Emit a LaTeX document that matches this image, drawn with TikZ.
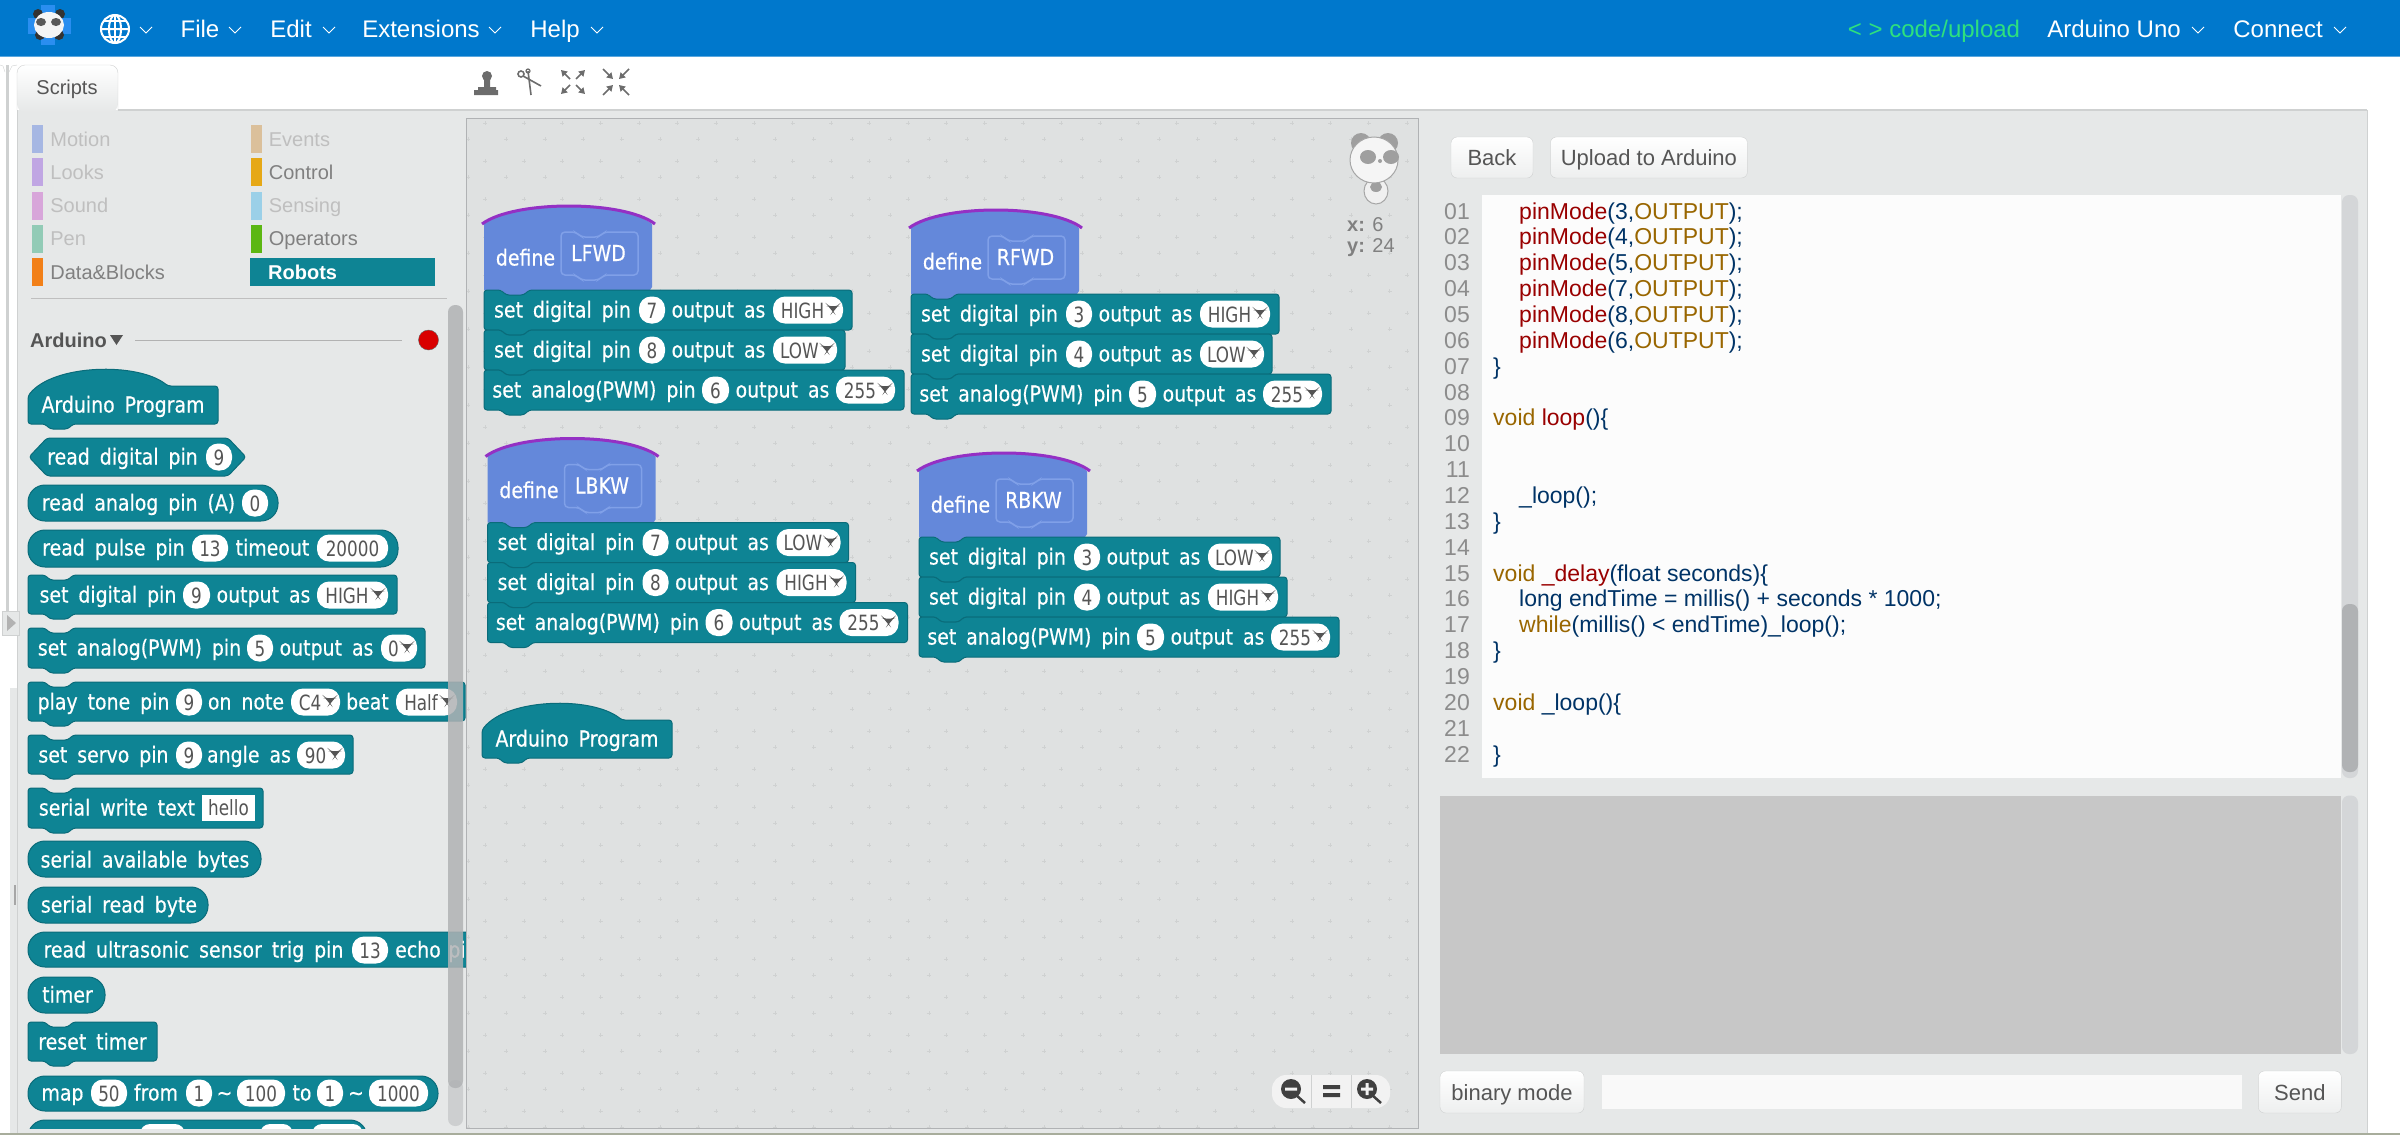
\documentclass[tikz,border=0pt]{standalone}
\usepackage{fontspec}
\setmainfont{Liberation Sans}
\newfontfamily\blockfont[FakeStretch=0.86,WordSpace=1.65,FakeBold=0.4]{DejaVu Sans}
\newfontfamily\fieldfont[FakeStretch=0.8]{DejaVu Sans}
\usetikzlibrary{arrows.meta, positioning}

\definecolor{barblue}{HTML}{0078CC}
\definecolor{logoblue}{HTML}{2A8EF0}
\definecolor{codegreen}{HTML}{2EE07E}
\definecolor{panelbg}{HTML}{E6E8E8}
\definecolor{scriptbg}{HTML}{DFE1E1}
\definecolor{edgegray}{HTML}{CFD1D1}
\definecolor{tealblock}{HTML}{0E8494}
\definecolor{tealedge}{HTML}{0A6C7A}
\definecolor{hatblue}{HTML}{6488DA}
\definecolor{slotblue}{HTML}{80A0E8}
\definecolor{hatrim}{HTML}{9430C4}
\definecolor{inkgray}{HTML}{555555}
\definecolor{thumbgray}{HTML}{B0B2B4}
\definecolor{trackgray}{HTML}{D4D6D8}
\definecolor{keyred}{HTML}{990000}
\definecolor{typebrown}{HTML}{996600}
\definecolor{plainnavy}{HTML}{003366}
\definecolor{bottomline}{HTML}{A8AD9C}
\definecolor{catMotion}{HTML}{A6B7E3}
\definecolor{catLooks}{HTML}{C0A6E3}
\definecolor{catSound}{HTML}{D8A6DA}
\definecolor{catPen}{HTML}{92CBB6}
\definecolor{catData}{HTML}{F28018}
\definecolor{catEvents}{HTML}{DBC09B}
\definecolor{catControl}{HTML}{E6A816}
\definecolor{catSensing}{HTML}{9BD0E8}
\definecolor{catOperators}{HTML}{5CB712}

\newcommand{\fs}[1]{\fontsize{#1}{#1}\selectfont}
\newcommand{\cKey}[1]{\textcolor{keyred}{#1}}
\newcommand{\cType}[1]{\textcolor{typebrown}{#1}}

% text and fields inside one block
\newcommand{\segs}[3]{%
  \foreach \kd/\xa/\xb/\txt [count=\nn] in {#3}
    \node[seg\kd, minimum width={(\xb-\xa)*1pt}] (#1\nn) at ({(\xa+\xb)/2},#2) {\txt};
}
\newcommand{\cmdshape}[4]{%
  \draw[blockshape, shift={(#1,#2)}] (0,0) -- (17,0) -- (22,5) -- (40,5) -- (45,0) -- (#3,0)
    -- (#3,#4) -- (45,#4) -- (40,#4+5) -- (22,#4+5) -- (17,#4) -- (0,#4) -- cycle;
}
\newcommand{\repshape}[4]{%
  \draw[blockshape, rounded corners=17pt] (#1,#2) rectangle (#3,#4);
}
\newcommand{\programhat}[3]{%
  \draw[blockshape, shift={(#2,#3)}] (0,10) .. controls (25,-22) and (110,-24) .. (140,0) -- (190,0)
    -- (190,38) -- (45,38) -- (40,43) -- (22,43) -- (17,38) -- (0,38) -- cycle;
  \node[segt] (#1) at ({#2+95},{#3+19}) {Arduino Program};
}
\newcommand{\motorstack}[5]{%
  \begin{scope}[shift={(#2,#3)}]
    \fill[hatblue] (0,-66) .. controls (30,-90) and (138,-90) .. (168,-66) -- (168,-3) -- (166,0)
      -- (45,0) -- (40,5) -- (22,5) -- (17,0) -- (0,0) -- cycle;
    \draw[hatrim, line width=3pt] (-2,-66) .. controls (30,-90) and (140,-90) .. (171,-66);
    \draw[slotblue, line width=1.5pt, rounded corners=4pt] (77,-58) -- (92,-58) -- (97,-53) -- (115,-53)
      -- (120,-58) -- (154,-58) -- (154,-15) -- (120,-15) -- (115,-10) -- (97,-10) -- (92,-15) -- (77,-15) -- cycle;
    \node[segt] (def#1) at (41.5,-32) {define};
    \node[segt] (lab#1) at (114.5,-36.5) {#1};
    \foreach \pin/\val/\bw/\rt [count=\i from 0] in {#4} {
      \cmdshape{0}{40*\i}{\bw}{40}
      \segs{#1r\i}{40*\i+20}{t/9/148/set digital pin, p/155/181/\pin, t/188/281/output as, d/289/\rt/\val}
    }
    \cmdshape{0}{80}{420}{40}
    \segs{#1a}{100}{t/9/211/set analog(PWM) pin, p/218/245/#5, t/252/345/output as, d/352/411/255}
  \end{scope}
}

\begin{document}
\begin{tikzpicture}[
        x=1pt, y=-1pt,
        blockshape/.style={fill=tealblock, draw=tealedge, line width=1pt, rounded corners=3pt},
        segt/.style={text=white, inner sep=0pt, text height=19pt, text depth=4pt, font=\blockfont\fs{22}},
        segp/.style={fill=white, text=inkgray, inner sep=0pt, minimum height=27pt, text height=20pt, text depth=4pt, rounded corners=12pt, font=\fieldfont\fs{21}},
        segd/.style={segp, execute at end node={\hspace{11pt}},
            path picture={\fill[inkgray] ([xshift=-15pt,yshift=4pt]path picture bounding box.east) -- ++(10pt,0pt) -- ++(-5pt,-6pt) -- cycle;}},
        segb/.style={fill=white, text=inkgray, inner sep=0pt, minimum height=26pt, text height=19pt, text depth=5pt, font=\fieldfont\fs{21}},
        menulab/.style={text=white, inner sep=0pt, text height=22pt, text depth=5pt, font=\fs{24}},
        chev/.style={draw=white, line width=0.8pt},
        swatch/.style={inner sep=0pt, minimum width=11pt, minimum height=28pt},
        catlab/.style={inner sep=0pt, text height=18pt, text depth=4pt, font=\fs{20}},
        btn/.style={draw=edgegray, rounded corners=6pt, top color=white, bottom color=panelbg!70!white, text=inkgray, inner sep=0pt, text height=20pt, text depth=4pt, font=\fs{22}},
        lineno/.style={text=gray!90, inner sep=0pt, anchor=base east, font=\fs{23}},
        codeline/.style={text=plainnavy, inner sep=0pt, anchor=base west, font=\fs{23}},
        icon/.style={draw=gray!85!black, line width=1.6pt}
    ]
        \useasboundingbox (0,0) rectangle (2400,1135);

        % Top bar
        \fill[barblue] (0,0) rectangle (2400,56);
        \fill[barblue!65!white] (0,56) rectangle (2400,57);
        \fill[logoblue] (41,5) rectangle (55,45);
        \fill[logoblue] (28,18) rectangle (71,34);
        \fill[black!80] (38,14) circle (5pt) (60,14) circle (5pt) (40,35) circle (5pt) (59,35) circle (5pt);
        \fill[white!92!gray] (49,25) ellipse (15pt and 13pt);
        \fill[black!65] (41,22) ellipse (5pt and 4pt) (56,22) ellipse (5pt and 4pt);
        \draw[white, line width=2pt] (115,29) circle (14pt) (115,29) ellipse (6pt and 14pt) (101,29) -- (129,29);
        \draw[white, line width=1.2pt] (103,21) -- (127,21) (103,37) -- (127,37) (115,15) -- (115,43);
        \foreach \lab/\cx [count=\i] in {File/200, Edit/291, Extensions/421, Help/555, Arduino Uno/2114, Connect/2278}
            \node[menulab] (menu\i) at (\cx,29) {\lab};
        \foreach \cx in {146,235,329,495,597,2198,2340}
            \draw[chev] (\cx-6,27) -- (\cx,33) -- (\cx+6,27);
        \node[menulab, text=codegreen] (codeup) at (1934,29) {< > code/upload};

        % Panel and tab
        \fill[panelbg] (17,110) rectangle (2367,1133);
        \draw[edgegray, line width=2.5pt] (118,110) -- (2367,110);
        \draw[edgegray] (2367,110) -- (2367,1133);
        \fill[panelbg] (10,688) rectangle (17,1133);
        \draw[edgegray] (17,110) -- (17,1133);
        \fill[edgegray] (6,65) rectangle (9,611);
        \draw[edgegray] (0,65) -- (3,66) -- (5,72) (9,72) -- (12,66) -- (17,65);
        \shade[top color=white, bottom color=panelbg, rounded corners=8pt] (17,112) -- (17,65) -- (118,65) -- (118,112) -- cycle;
        \draw[edgegray, rounded corners=8pt] (17,110) -- (17,65) -- (118,65) -- (118,110);
        \node[catlab, text=inkgray] (tabscripts) at (67,87) {Scripts};
        \draw[gray!70, line width=1.5pt] (15,885) -- (15,905);
        \draw[fill=panelbg, draw=edgegray] (2,611) -- (19,611) -- (19,635) -- (2,635) -- cycle;
        \fill[gray!60] (7,615) -- (16,623) -- (7,631) -- cycle;

        % Toolbar icons
        \fill[gray!85!black] (487,76) circle (5pt) (484,78) rectangle (490,88) (478,87) rectangle (496,91) (474,90) rectangle (498,95);
        \draw[icon] (521,74) circle (3pt) (523,76) -- (541,86) (528,71) -- (531,95);
        \draw[icon, line width=1.2pt] (528,71) circle (2pt);
        \foreach \dx/\dy in {1/1,1/-1,-1/1,-1/-1} {
            \draw[icon, -{Triangle[length=6pt,width=7pt]}] (573+3*\dx,82+3*\dy) -- (573+12*\dx,82+12*\dy);
            \draw[icon, -{Triangle[length=6pt,width=7pt]}] (616+13*\dx,82+13*\dy) -- (616+3*\dx,82+3*\dy);
        }

        % Categories
        \foreach \lab/\col/\ink [count=\i from 0] in {Motion/catMotion/gray!50, Looks/catLooks/gray!50, Sound/catSound/gray!50, Pen/catPen/gray!50, Data\&Blocks/catData/gray} {
            \node[swatch, fill=\col] (swa\i) at (37.5,139+33.3*\i) {};
            \node[catlab, text=\ink, right=7pt of swa\i] (cata\i) {\lab};
        }
        \foreach \lab/\col/\ink [count=\i from 0] in {Events/catEvents/gray!50, Control/catControl/gray, Sensing/catSensing/gray!50, Operators/catOperators/gray} {
            \node[swatch, fill=\col] (swb\i) at (256,139+33.3*\i) {};
            \node[catlab, text=\ink, right=7pt of swb\i] (catb\i) {\lab};
        }
        \fill[tealblock] (250,258) rectangle (435,286);
        \node[catlab, text=white, font=\bfseries\fs{20}, anchor=west] (catrobots) at (268,272) {Robots};
        \draw[gray!50, line width=1pt] (31,298) -- (447,298);
        \node[catlab, text=inkgray, font=\bfseries\fs{20}, anchor=west] (ardhead) at (30,340) {Arduino};
        \fill[inkgray] (110,335) -- (123,335) -- (116.5,345) -- cycle;
        \draw[gray!60, line width=1pt] (135,340) -- (402,340);
        \node[circle, fill=red!85!black, draw=black!60, inner sep=0pt, minimum size=20pt] (ardled) at (428.5,340) {};

        % Palette blocks
        \begin{scope}
            \clip (17,350) rectangle (467,1128);
            \programhat{palprog}{28}{386}
            \draw[blockshape] (29,457) -- (47,438) -- (228,438) -- (246,457) -- (228,476) -- (47,476) -- cycle;
            \segs{palrd}{457}{t/47/198/read digital pin, p/206/232/9}
            \repshape{28}{485}{278}{521}
            \segs{palra}{503}{t/42/235/read analog pin (A), p/242/268/0}
            \repshape{28}{530}{398}{567}
            \segs{palrp}{548}{t/42/185/read pulse pin, p/192/228/13, t/235/310/timeout, p/317/388/20000}
            \cmdshape{28}{575}{369}{39}
            \segs{palsd}{595}{t/39/177/set digital pin, p/183/210/9, t/217/310/output as, d/317/388/HIGH}
            \cmdshape{28}{628}{397}{40}
            \segs{palsa}{648}{t/39/240/set analog(PWM) pin, p/247/273/5, t/280/373/output as, d/381/417/0}
            \cmdshape{28}{682}{437}{39}
            \segs{palpt}{702}{t/39/168/play tone pin, p/176/202/9, t/208/284/on note, d/291/340/C4, t/347/388/beat, d/396/457/Half}
            \cmdshape{28}{735}{325}{39}
            \segs{palsv}{755}{t/39/168/set servo pin, p/176/202/9, t/208/290/angle as, d/297/345/90}
            \cmdshape{28}{788}{235}{40}
            \segs{palsw}{808}{t/39/195/serial write text, b/202/255/hello}
            \repshape{28}{841}{261}{877}
            \segs{palav}{860}{t/42/248/serial available bytes}
            \repshape{28}{887}{208}{923}
            \segs{palrb}{905}{t/42/196/serial read byte}
            \repshape{28}{932}{520}{967}
            \segs{palus}{950}{t/42/345/read ultrasonic sensor trig pin, p/352/388/13, t/395/441/echo, t/451/463/pi}
            \repshape{28}{977}{105}{1013}
            \segs{paltm}{995}{t/42/93/timer}
            \cmdshape{28}{1022}{129}{39}
            \segs{palrt}{1042}{t/39/146/reset timer}
            \repshape{28}{1076}{438}{1111}
            \segs{palmp}{1093}{t/42/83/map, p/91/127/50, t/133/179/from, p/186/212/1, t/218/231/\textasciitilde, p/237/285/100, t/292/312/to, p/317/343/1, t/350/362/\textasciitilde, p/369/428/1000}
            \repshape{28}{1120}{367}{1156}
            \fill[white, rounded corners=10pt] (140,1124) rectangle (185,1150) (260,1124) rectangle (293,1150) (312,1124) rectangle (363,1150);
        \end{scope}
        \fill[thumbgray, opacity=.45, rounded corners=7pt] (448,1080) rectangle (463,1126);
        \fill[thumbgray, opacity=.85, rounded corners=7pt] (448,305) rectangle (463,1088);

        % Scripts area
        \draw[fill=scriptbg, draw=thumbgray] (466,118) rectangle (1418,1128);
        \begin{scope}
            \clip (467,119) rectangle (1417,1127);
            \foreach \cx in {0,...,25}
                \foreach \cy in {0,...,26} {
                    \draw[edgegray, line width=.6pt] (447+38.4*\cx-2,123+38*\cy) -- ++(4,0) (447+38.4*\cx,123+38*\cy-2) -- ++(0,4);
                    \draw[edgegray, line width=.6pt] (468+38.4*\cx-2,139+38*\cy) -- ++(4,0) (468+38.4*\cx,139+38*\cy-2) -- ++(0,4);
                }
        \end{scope}
        \motorstack{LFWD}{484}{290}{7/HIGH/368/359, 8/LOW/361/353}{6}
        \motorstack{RFWD}{911}{294}{3/HIGH/368/359, 4/LOW/361/353}{5}
        \motorstack{LBKW}{487.5}{522.5}{7/LOW/361/353, 8/HIGH/368/359}{6}
        \motorstack{RBKW}{919}{537}{3/LOW/361/353, 4/HIGH/368/359}{5}
        \programhat{scrprog}{482}{720}

        % Sprite
        \draw[gray!70, fill=gray!12, line width=1pt] (1376,191) ellipse (12pt and 13pt);
        \fill[gray!75] (1376,187) ellipse (6pt and 5pt) (1361,143) circle (10pt) (1388,143) circle (10pt);
        \draw[gray!70, fill=gray!8, line width=1pt] (1374,160) ellipse (24pt and 23pt);
        \fill[gray!75] (1368,157) ellipse (8pt and 7pt) (1391,157) ellipse (8pt and 7pt) (1380,161) circle (2pt);
        \node[catlab, text=gray, anchor=west] (posx) at (1347,224) {\textbf{x:} 6};
        \node[catlab, text=gray, anchor=west] (posy) at (1347,245) {\textbf{y:} 24};

        % Zoom buttons
        \fill[white!90!gray, rounded corners=14pt] (1272,1075) rectangle (1390,1108);
        \draw[edgegray] (1311,1075) -- (1311,1108) (1351,1075) -- (1351,1108);
        \foreach \cx in {1291,1367} {
            \draw[black!75, line width=2.5pt] (\cx+5,1095) -- (\cx+14,1103);
            \fill[black!75] (\cx,1089) circle (10pt);
        }
        \fill[white!90!gray] (1285,1087.5) rectangle (1297,1090.5) (1361,1087.5) rectangle (1373,1090.5) (1365.5,1083) rectangle (1368.5,1095);
        \fill[black!75] (1323,1085) rectangle (1340,1089) (1323,1093) rectangle (1340,1097);

        % Code side
        \node[btn, minimum width=82pt, minimum height=41pt] (btnback) at (1492,157.5) {Back};
        \node[btn, minimum width=197pt, minimum height=41pt, right=17pt of btnback] (btnupload) {Upload to Arduino};
        \fill[white!98!gray] (1482,195) rectangle (2341,778);
        \fill[trackgray, rounded corners=7pt] (2342,195) rectangle (2358,778);
        \fill[thumbgray, rounded corners=7pt] (2342,604) rectangle (2358,772);
        \foreach \lab [count=\i from 0] in {01,02,03,04,05,06,07,08,09,10,11,12,13,14,15,16,17,18,19,20,21,22}
            \node[lineno] (ln\lab) at (1470,219+25.86*\i) {\lab};
        \foreach \pp [count=\i from 0] in {3,4,5,7,8,6}
            \node[codeline] (pm\pp) at (1519,219+25.86*\i) {\cKey{pinMode}(\pp,\cType{OUTPUT});};
        \foreach \ii/\cx/\code in {
                6/1493/\},
                8/1493/\cType{void} \cKey{loop}()\{,
                11/1519/\_loop();,
                12/1493/\},
                14/1493/\cType{void} \cKey{\_delay}(float seconds)\{,
                15/1519/long endTime = millis() + seconds * 1000;,
                16/1519/\cType{while}(millis() < endTime)\_loop();,
                17/1493/\},
                19/1493/\cType{void} \_loop()\{,
                21/1493/\}}
            \node[codeline] (code\ii) at (\cx,219+25.86*\ii) {\code};

        % Console
        \fill[black!22] (1440,795.5) rectangle (2341,1054);
        \fill[trackgray, rounded corners=7pt] (2342,795.5) rectangle (2358,1054);
        \node[btn, minimum width=144pt, minimum height=42pt] (btnbinary) at (1512,1092) {binary mode};
        \node[fill=white!95!gray, inner sep=0pt, minimum width=640pt, minimum height=34pt, right=17.5pt of btnbinary] (sendbox) {};
        \node[btn, minimum width=83pt, minimum height=42pt, right=16pt of sendbox] (btnsend) {Send};

        % Bottom edge
        \fill[bottomline] (0,1133) rectangle (2400,1135);
    \end{tikzpicture}
\end{document}
